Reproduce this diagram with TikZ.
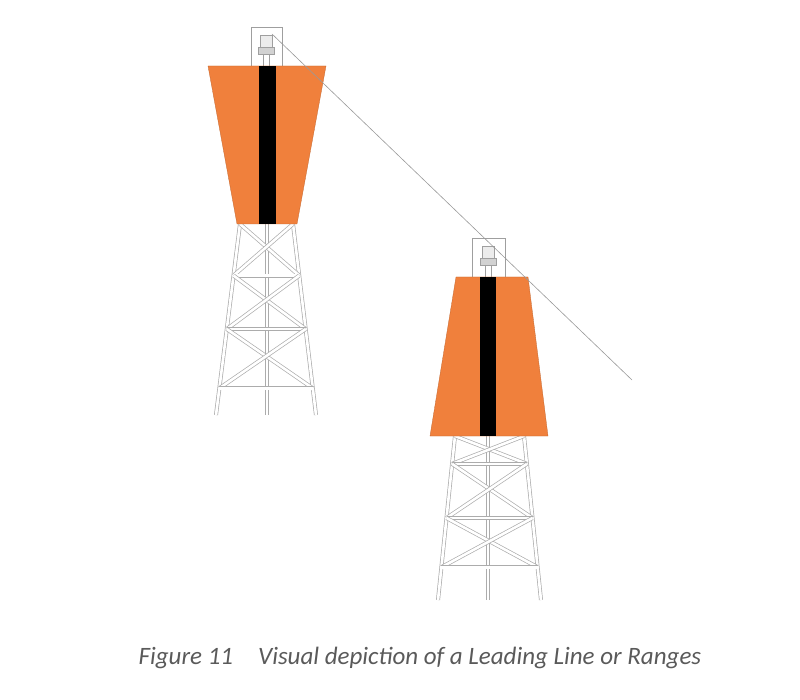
\documentclass[tikz,border=0pt]{standalone}
\usepackage{fontspec}
\setmainfont{Carlito}
\usetikzlibrary{calc}
\definecolor{orng}{RGB}{240,128,60}
\definecolor{capgray}{RGB}{90,90,90}
\tikzset{
  member/.style={draw=gray!65, double=white, double distance=2.6pt, line width=0.7pt},
  thin/.style={draw=gray!75, line width=0.7pt},
  body/.style={fill=orng, draw=orng!80!black, line width=0.3pt},
  stripe/.style={fill=black},
}
\newcommand{\mytower}[8]{%
  \coordinate (LT) at (#1,#5); \coordinate (LB) at (#2,#6);
  \coordinate (RT) at (#3,#5); \coordinate (RB) at (#4,#6);
  \draw[member] (LT) -- (LB);
  \draw[member] (RT) -- (RB);
  \draw[member] (#7,#5) -- (#7,#6);
  \foreach \f [remember=\f as \prev (initially 0)] in {#8} {
    \draw[member] ($(LT)!\prev!(LB)$) -- ($(RT)!\f!(RB)$);
    \draw[member] ($(RT)!\prev!(RB)$) -- ($(LT)!\f!(LB)$);
    \draw[member] ($(LT)!\f!(LB)$) -- ($(RT)!\f!(RB)$);
  }
}
\newcommand{\mylantern}[4]{%
  \draw[thin] (#1,#4) -- (#1,#3) -- (#2,#3) -- (#2,#4);
  \path ($(#1,#3)!0.5!(#2,#3)$) coordinate (LC);
  \draw[thin, fill=gray!15] ($(LC)+(-6,8)$) rectangle ($(LC)+(6,20)$);
  \draw[thin, fill=gray!35] ($(LC)+(-8,20)$) rectangle ($(LC)+(8,27)$);
  \draw[thin] ($(LC)+(-3,27)$) rectangle ($(LC)+(3,#4-#3)$);
}
\begin{document}
\begin{tikzpicture}[x=1pt,y=-1pt]
\useasboundingbox (0,0) rectangle (800,700);
\mylantern{251}{282}{27}{66}
\mytower{240}{216}{293}{316}{224}{415}{267}{0.27,0.55,0.86}
\fill[body] (208,66) -- (326,66) -- (297,224) -- (237,224) -- cycle;
\fill[stripe] (259,66) rectangle (276,224);
\mylantern{472}{505}{238}{277}
\mytower{455}{438}{524}{541}{436}{600}{488}{0.17,0.5,0.8}
\fill[body] (456,277) -- (528,277) -- (548,436) -- (430,436) -- cycle;
\fill[stripe] (480,277) rectangle (496,436);
\coordinate (A) at (272,34);
\coordinate (B) at (632,380);
\draw[gray!80, line width=0.6pt] (A) -- (B);
\node[text=capgray, font=\itshape\fontsize{25}{28}\selectfont, anchor=base] (cap) at (420,664)
  {Figure 11\quad Visual depiction of a Leading Line or Ranges};
\end{tikzpicture}
\end{document}
